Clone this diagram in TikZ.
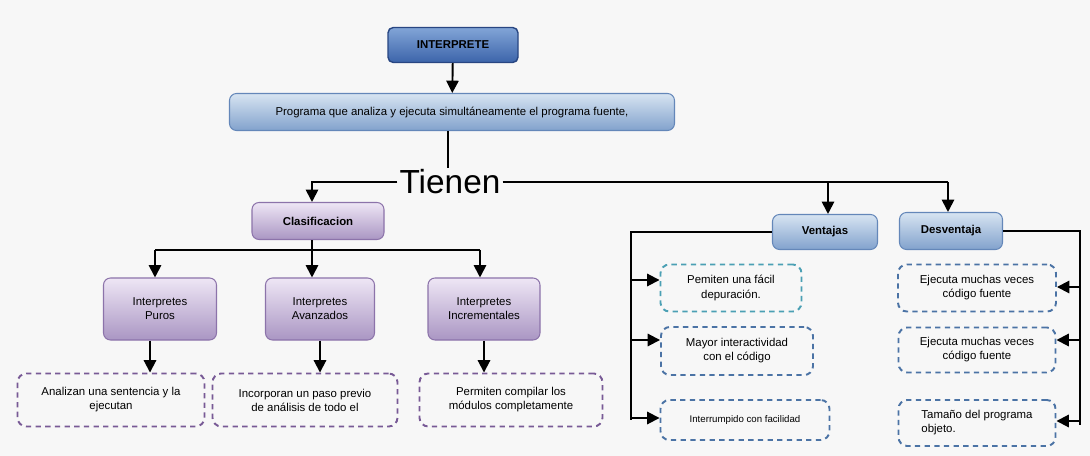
\documentclass[tikz,border=0pt]{standalone}
\usepackage{fontspec}
\setmainfont{Liberation Sans}
\usetikzlibrary{arrows.meta}
\definecolor{ibTop}{RGB}{130,165,215}
\definecolor{ibBot}{RGB}{60,100,170}
\definecolor{ibDraw}{RGB}{40,70,130}
\definecolor{pbTop}{RGB}{215,228,242}
\definecolor{pbBot}{RGB}{130,162,205}
\definecolor{pbDraw}{RGB}{100,135,185}
\definecolor{puTop}{RGB}{238,230,245}
\definecolor{puBot}{RGB}{170,150,195}
\definecolor{puDraw}{RGB}{140,115,170}
\definecolor{dPur}{RGB}{120,90,150}
\definecolor{dBlue}{RGB}{75,115,165}
\definecolor{dTeal}{RGB}{75,160,180}
\definecolor{bg}{RGB}{247,247,247}
\begin{document}
\begin{tikzpicture}[x=0.02cm,y=-0.02cm,
 blue box/.style={draw=ibDraw, line width=0.8pt, rounded corners=3pt, top color=ibTop, bottom color=ibBot, font=\fontsize{6.5}{8}\selectfont\bfseries, align=center},
 prog box/.style={draw=pbDraw, line width=0.6pt, rounded corners=4pt, top color=pbTop, bottom color=pbBot, font=\fontsize{6.5}{8}\selectfont, align=center},
 purple box/.style={draw=puDraw, line width=0.6pt, rounded corners=4pt, top color=puTop, bottom color=puBot, font=\fontsize{6.5}{8}\selectfont, align=center},
 vbox/.style={draw=pbDraw, line width=0.6pt, rounded corners=4pt, top color=pbTop, bottom color=pbBot, font=\fontsize{6.5}{8}\selectfont\bfseries, align=center},
 dbox/.style={draw=#1, dashed, dash pattern=on 3pt off 2.5pt, line width=1.1pt, rounded corners=5pt, font=\fontsize{6.5}{8}\selectfont, align=center},
 arr/.style={-{Triangle[length=7pt,width=7pt]}, line width=1.1pt},
 ln/.style={line width=1.1pt}]
\fill[bg] (0,0) rectangle (1090,456);
\useasboundingbox (0,0) rectangle (1090,456);
\node[blue box, minimum width=130*0.02cm, minimum height=35*0.02cm] (int) at (453,45) {INTERPRETE};
\node[prog box, minimum width=445*0.02cm, minimum height=37*0.02cm] (prog) at (452,112) {Programa que analiza y ejecuta simultáneamente el programa fuente,};
\node[font=\fontsize{19}{20}\selectfont, inner sep=1pt] (tie) at (450,182) {Tienen};
\node[purple box, font=\fontsize{6.5}{8}\selectfont\bfseries, minimum width=132*0.02cm, minimum height=37*0.02cm] (cla) at (318,221) {Clasificacion};
\node[vbox, minimum width=105*0.02cm, minimum height=35*0.02cm] (ven) at (825,232) {Ventajas};
\node[vbox, minimum width=103*0.02cm, minimum height=37*0.02cm] (des) at (951,231) {Desventaja};
\node[purple box, minimum width=113*0.02cm, minimum height=62*0.02cm] (pur) at (160,309) {Interpretes\\Puros};
\node[purple box, minimum width=109*0.02cm, minimum height=62*0.02cm] (ava) at (320,309) {Interpretes\\Avanzados};
\node[purple box, minimum width=112*0.02cm, minimum height=62*0.02cm] (inc) at (484,309) {Interpretes\\Incrementales};
\node[dbox=dPur, minimum width=187*0.02cm, minimum height=53*0.02cm] (a1) at (111,400) {Analizan una sentencia y la\\ejecutan};
\node[dbox=dPur, minimum width=185*0.02cm, minimum height=53*0.02cm] (a2) at (305,400) {Incorporan un paso previo\\de análisis de todo el};
\node[dbox=dPur, minimum width=183*0.02cm, minimum height=53*0.02cm] (a3) at (511,400) {Permiten compilar los\\módulos completamente};
\node[dbox=dTeal, minimum width=141*0.02cm, minimum height=47*0.02cm] (v1) at (731,288) {Pemiten una fácil\\depuración.};
\node[dbox=dBlue, minimum width=152*0.02cm, minimum height=48*0.02cm] (v2) at (737,351) {Mayor interactividad\\con el código};
\node[dbox=dBlue, minimum width=169*0.02cm, minimum height=40*0.02cm, font=\fontsize{5.5}{7}\selectfont] (v3) at (745,420) {Interrumpido con facilidad};
\node[dbox=dBlue, minimum width=158*0.02cm, minimum height=47*0.02cm] (d1) at (977,288) {Ejecuta muchas veces\\código fuente};
\node[dbox=dBlue, minimum width=157*0.02cm, minimum height=45*0.02cm] (d2) at (977,350) {Ejecuta muchas veces\\código fuente};
\node[dbox=dBlue, minimum width=157*0.02cm, minimum height=46*0.02cm, align=left] (d3) at (977,423) {Tamaño del programa\\objeto.};
\draw[arr] (int) -- (prog);
\draw[ln] (prog.south) ++(-4,0) coordinate (p0) -- (p0 |- tie.north);
\draw[arr] (tie.west) -| (cla.north -| 312,0);
\draw[ln] (tie.east) -- (948,182);
\draw[arr] (828,182) -- (ven.north -| 828,0);
\draw[arr] (948,182) -- (des.north -| 948,0);
\draw[ln] (cla.south -| 312,0) -- (312,250);
\draw[ln] (155,250) -- (480,250);
\draw[arr] (155,250) -- (pur.north -| 155,0);
\draw[arr] (312,250) -- (ava.north -| 312,0);
\draw[arr] (480,250) -- (inc.north -| 480,0);
\draw[arr] (pur.south -| 150,0) -- (a1.north -| 150,0);
\draw[arr] (ava.south) -- (a2.north -| ava.south);
\draw[arr] (inc.south) -- (a3.north -| inc.south);
\draw[ln] (ven.west) -- (631,232) -- (631,420);
\draw[arr] (631,280) -- (v1.west |- 0,280);
\draw[arr] (631,340) -- (v2.west |- 0,340);
\draw[arr] (631,418) -- (v3.west |- 0,418);
\draw[ln] (des.east) -- (1080,231) -- (1080,425);
\draw[arr] (1080,287) -- (d1.east |- 0,287);
\draw[arr] (1080,340) -- (d2.east |- 0,340);
\draw[arr] (1080,421) -- (d3.east |- 0,421);
\end{tikzpicture}
\end{document}
